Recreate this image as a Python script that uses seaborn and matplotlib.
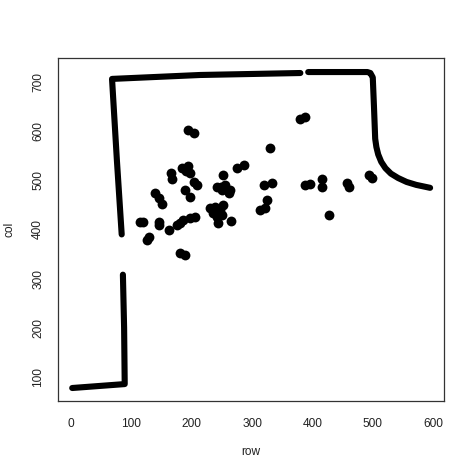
import matplotlib
matplotlib.use("Agg")
import matplotlib.pyplot as plt
import seaborn as sns
import pandas as pd

# traced outline (three pieces of the thick path)
path_seg = ["a"] * 4 + ["b"] * 5 + ["c"] * 15
path_row = [2, 89, 88, 86,
            84, 76, 68, 214, 380,
            393, 491, 496, 500, 502, 504, 506, 509, 514, 521, 530, 542, 556, 572, 595]
path_col = [77, 85, 200, 308,
            390, 542, 707, 715, 719,
            721, 721, 719, 710, 650, 585, 568, 553, 538, 525, 514, 505, 497, 491, 485]

# scattered blobs
blob_row = [194, 203, 329, 380, 388,
            184, 194, 197, 203, 208, 190,
            165, 167, 189, 197,
            139, 145, 150,
            114, 120, 145, 145,
            130, 126, 163,
            175, 186, 197, 206, 181,
            181, 189,
            252, 275, 286,
            242, 255, 264, 261, 250, 248,
            230, 239, 247, 252, 242, 244, 236, 265, 240, 250,
            319, 333, 324, 313, 321,
            388, 396, 416, 416, 457, 460, 493, 498, 427]
blob_col = [603, 596, 567, 625, 629,
            525, 529, 515, 497, 491, 520,
            515, 504, 481, 466,
            474, 464, 453,
            416, 416, 416, 409,
            384, 379, 399,
            409, 419, 423, 425, 414,
            352, 348,
            511, 525, 532,
            487, 491, 481, 474, 481, 486,
            443, 446, 440, 450, 426, 413, 433, 418, 437, 430,
            491, 494, 460, 440, 443,
            491, 492, 504, 487, 494, 486, 511, 506, 429]

x_ticks = [0, 100, 200, 300, 400, 500, 600]
y_ticks = [100, 200, 300, 400, 500, 600, 700]

path_df = pd.DataFrame({"row": path_row, "col": path_col, "seg": path_seg})
blob_df = pd.DataFrame({"row": blob_row, "col": blob_col})

sns.set_style("white")
plt.rcParams["font.family"] = ["Liberation Sans", "DejaVu Sans"]

fig = plt.figure(figsize=(4.74, 4.74), dpi=100)
ax = fig.add_axes([0.1224, 0.154, 0.8143, 0.723])

sns.lineplot(data=path_df, x="row", y="col", units="seg", estimator=None,
             sort=False, color="black", linewidth=4.4,
             solid_capstyle="round", solid_joinstyle="round", ax=ax)
sns.scatterplot(data=blob_df, x="row", y="col", color="black", s=50,
                edgecolor="black", linewidth=0, ax=ax)

ax.set_xlim(-21.5, 618)
ax.set_ylim(50.5, 749)
ax.set_xticks(x_ticks)
ax.set_yticks(y_ticks)
for sp in ax.spines.values():
    sp.set_visible(True)
    sp.set_color("#333333")
    sp.set_linewidth(0.9)
ax.tick_params(axis="both", direction="out", length=5, width=0.8,
               color="#333333", labelsize=8.6, labelcolor="#222222")
ax.tick_params(axis="x", pad=7)
ax.tick_params(axis="y", pad=5)
plt.setp(ax.get_yticklabels(), rotation=90, va="center")
ax.set_xlabel("row", fontsize=8.6, color="#222222", labelpad=12)
ax.set_ylabel("col", fontsize=8.6, color="#222222", labelpad=12)

fig.savefig("out.png", dpi=100)
